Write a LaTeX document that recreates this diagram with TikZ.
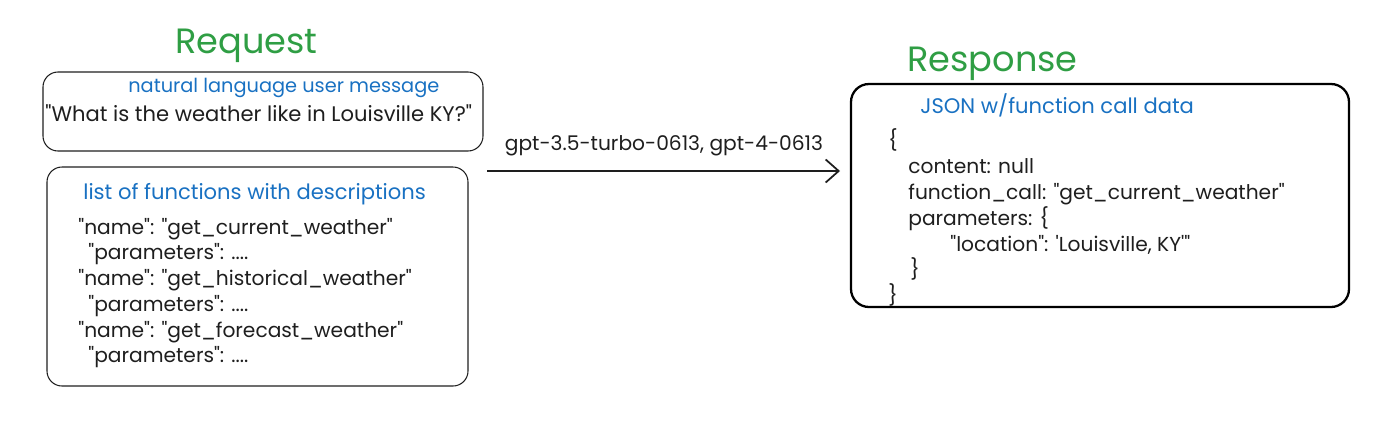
\documentclass[tikz,border=0pt]{standalone}
\usepackage{fontspec}
\setmainfont{Poppins}[Ligatures=TeXOff]
\usetikzlibrary{arrows.meta}
\definecolor{titlegreen}{HTML}{2F9E44}
\definecolor{labelblue}{HTML}{1971C2}
\definecolor{inkblack}{HTML}{1E1E1E}

\begin{document}
\begin{tikzpicture}[
  >={Straight Barb[length=2.6mm, width=4.6mm, line width=1pt]},
  every node/.style={font=\fontsize{11.5}{14}\selectfont, text=inkblack},
  titletext/.style={anchor=base west, inner sep=0pt, font=\fontsize{20}{24}\selectfont, text=titlegreen},
  bluetext/.style={anchor=base west, inner sep=0pt, font=\fontsize{12}{14}\selectfont, text=labelblue},
  bodytext/.style={anchor=base west, inner sep=0pt},
  inbox/.style={rectangle, rounded corners=3mm, draw=inkblack, line width=0.6pt},
  outbox/.style={rectangle, rounded corners=3.6mm, draw=black, line width=1.3pt},
  callarrow/.style={->, line width=1.1pt, draw=inkblack},
]
\useasboundingbox (0,0) rectangle (28,-8.74);

% ---- boxes ----
\node[inbox, minimum width=8.8cm, minimum height=1.58cm] (msgbox) at (5.26,-2.23) {};
\node[inbox, minimum width=8.42cm, minimum height=4.38cm] (fnbox) at (5.15,-5.53) {};
\node[outbox, minimum width=9.96cm, minimum height=4.46cm] (jsonbox) at (22.0,-3.91) {};

% ---- titles ----
\node[titletext] (reqtitle) at (3.5,-1.06) {Request};
\node[titletext] (resptitle) at (18.14,-1.42) {Response};

% ---- user message ----
\node[bluetext, font=\fontsize{11}{14}\selectfont] (msglabel) at (2.56,-1.84) {natural language user message};
\node[bodytext, font=\fontsize{12}{14}\selectfont] (msgtext) at (0.9,-2.42) {"What is the weather like in Louisville KY?"};

% ---- function list ----
\node[bluetext] (fnlabel) at (1.66,-3.98) {list of functions with descriptions};
\node[bodytext] (fnname1) at (1.56,-4.68) {"name": "get\_current\_weather"};
\node[bodytext] (fnparam1) at (1.76,-5.18) {"parameters": ....};
\node[bodytext] (fnname2) at (1.56,-5.70) {"name": "get\_historical\_weather"};
\node[bodytext] (fnparam2) at (1.76,-6.22) {"parameters": ....};
\node[bodytext] (fnname3) at (1.56,-6.74) {"name": "get\_forecast\_weather"};
\node[bodytext] (fnparam3) at (1.76,-7.24) {"parameters": ....};

% ---- model call ----
\coordinate (callstart) at (9.74,-3.42);
\coordinate (callend) at (16.8,-3.42);
\draw[callarrow] (callstart) -- (callend);
\node[anchor=base, inner sep=0pt] (modellabel) at (13.28,-3.0) {gpt-3.5-turbo-0613, gpt-4-0613};

% ---- json response ----
\node[bluetext] (jsonlabel) at (18.4,-2.26) {JSON w/function call data};
\node[bodytext] (openbrace) at (17.76,-2.94) {\{};
\node[bodytext] (contentline) at (18.16,-3.46) {content: null};
\node[bodytext] (callline) at (18.16,-3.98) {function\_call: "get\_current\_weather"};
\node[bodytext] (paramline) at (18.16,-4.50) {parameters: \{};
\node[bodytext] (locline) at (19.0,-5.02) {"location": 'Louisville, KY'"};
\node[bodytext] (innerclose) at (18.2,-5.52) {\}};
\node[bodytext] (outerclose) at (17.76,-6.04) {\}};

\end{tikzpicture}
\end{document}
